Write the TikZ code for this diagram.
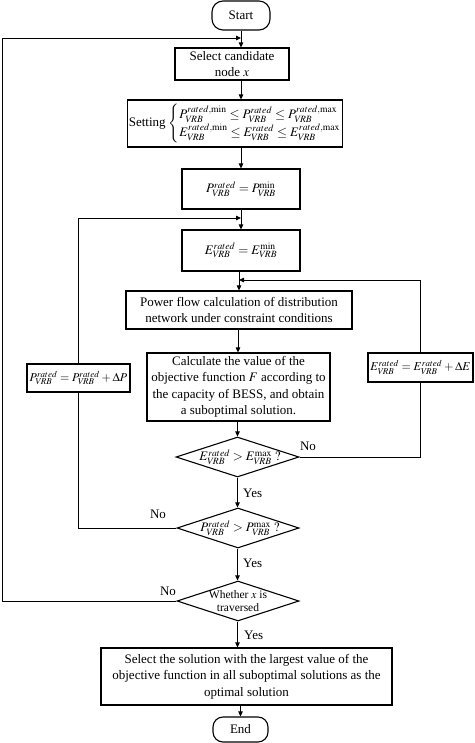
\documentclass[tikz,border=0pt]{standalone}
\usepackage{mathptmx}
\usepackage[no-math]{fontspec}
\setmainfont[Ligatures=TeX]{Liberation Serif}
\newfontfamily\tnr{Liberation Serif}
\usetikzlibrary{arrows.meta,shapes.geometric}
\tikzset{
  box/.style={draw,line width=1.1pt,inner sep=1pt,align=center,font=\tnr\fontsize{13}{16.5}\selectfont},
  term/.style={box,rounded corners=11pt},
  dia/.style={draw,line width=1.1pt,diamond,inner sep=0pt},
  lab/.style={font=\tnr\fontsize{13}{16}\selectfont,inner sep=0pt},
  conn/.style={line width=0.8pt},
  arr/.style={conn,-{Triangle[length=5pt,width=4.5pt]}},
}
\begin{document}
\begin{tikzpicture}[x=1pt,y=-1pt]
\useasboundingbox (0,0) rectangle (474,743);
% nodes
\node[term,minimum width=58pt,minimum height=29pt] (start) at (241,15.5) {Start};
\node[box,minimum width=114pt,minimum height=32pt] (select) at (232,64) {Select candidate\\node $x$};
\node[box,minimum width=206pt,minimum height=47pt] (setting) at (235,123.5)
 {Setting $\left\{\begin{array}{@{}l@{}}
 P_{V\!RB}^{rated,\mathrm{min}}\le P_{V\!RB}^{rated}\le P_{V\!RB}^{rated,\mathrm{max}}\\[0pt]
 E_{V\!RB}^{rated,\mathrm{min}}\le E_{V\!RB}^{rated}\le E_{V\!RB}^{rated,\mathrm{max}}
 \end{array}\right.$};
\node[box,minimum width=118pt,minimum height=40pt] (pmin) at (241,189) {$P_{V\!RB}^{rated}=P_{V\!RB}^{\mathrm{min}}$};
\node[box,minimum width=118pt,minimum height=41pt] (emin) at (241,250.5) {$E_{V\!RB}^{rated}=E_{V\!RB}^{\mathrm{min}}$};
\node[box,minimum width=226pt,minimum height=38pt] (pf) at (239,310) {Power flow calculation of distribution\\network under constraint conditions};
\node[box,minimum width=183pt,minimum height=68pt] (calc) at (238.5,387) {Calculate the value of the\\objective function $F$ according to\\the capacity of BESS, and obtain\\a suboptimal solution.};
\node[dia,minimum width=123pt,minimum height=40pt] (dE) at (237.5,457) {};
\node[lab] (dEt) at (240,457) {$E_{V\!RB}^{rated}>E_{V\!RB}^{\mathrm{max}}\;?$};
\node[dia,minimum width=122pt,minimum height=40pt] (dP) at (238,528) {};
\node[lab] (dPt) at (240,528) {$P_{V\!RB}^{rated}>P_{V\!RB}^{\mathrm{max}}\;?$};
\node[dia,minimum width=122pt,minimum height=40pt] (dX) at (238,601) {};
\node[lab,align=center,font=\tnr\fontsize{11.5}{13.5}\selectfont] (dXt) at (238,601) {Whether $x$ is\\traversed};
\node[box,minimum width=291pt,minimum height=57pt] (final) at (246.5,676.5) {Select the solution with the largest value of the\\objective function in all suboptimal solutions as the\\optimal solution};
\node[term,minimum width=55pt,minimum height=25pt,rounded corners=10pt] (end) at (240.5,729.5) {End};
\node[box,minimum width=103pt,minimum height=28pt,font=\tnr\fontsize{12}{14}\selectfont] (bP) at (78.5,378) {$P_{V\!RB}^{rated}=P_{V\!RB}^{rated}+\Delta P$};
\node[box,minimum width=105pt,minimum height=29pt,font=\tnr\fontsize{12}{14}\selectfont] (bE) at (420.5,367.5) {$E_{V\!RB}^{rated}=E_{V\!RB}^{rated}+\Delta E$};
% junction coordinates
\coordinate (jX) at (241,38);
\coordinate (jP) at (241,218);
\coordinate (jE) at (239,280);
\coordinate (cX) at (2,601);
\coordinate (cE) at (420.5,280);
\coordinate (cP) at (78.5,218);
% main flow
\draw[arr] (start.south -| jX) -- (select.north -| jX);
\draw[arr] (select.south -| jX) -- (setting.north -| jX);
\draw[arr] (setting.south -| jX) -- (pmin.north -| jX);
\draw[arr] (pmin.south -| jX) -- (emin.north -| jX);
\draw[arr] (emin.south -| jE) -- (pf.north -| jE);
\draw[arr] (pf.south -| 238,0) -- (calc.north -| 238,0);
\draw[arr] (calc.south -| dE.north) -- (dE.north);
\draw[arr] (dE.south) -- (dP.north -| dE.south);
\draw[arr] (dP.south -| dE.south) -- (dX.north -| dE.south);
\draw[arr] (dX.south -| dE.south) -- (final.north -| dE.south);
\draw[arr] (final.south -| 240.5,0) -- (end.north);
% loops
\draw[conn] (dE.east) -| (bE.south);
\draw[arr] (bE.north) -- (cE) -- (jE);
\draw[conn] (dP.west) -| (bP.south);
\draw[arr] (bP.north) -- (cP) -- (jP);
\draw[arr] (dX.west) -- (cX) |- (jX);
% labels
\node[lab,anchor=west] (yes1) at (243,493) {Yes};
\node[lab,anchor=west] (yes2) at (243,563) {Yes};
\node[lab,anchor=west] (yes3) at (244,635) {Yes};
\node[lab] (no1) at (308,446) {No};
\node[lab] (no2) at (158,514) {No};
\node[lab] (no3) at (168,591) {No};
\end{tikzpicture}
\end{document}
